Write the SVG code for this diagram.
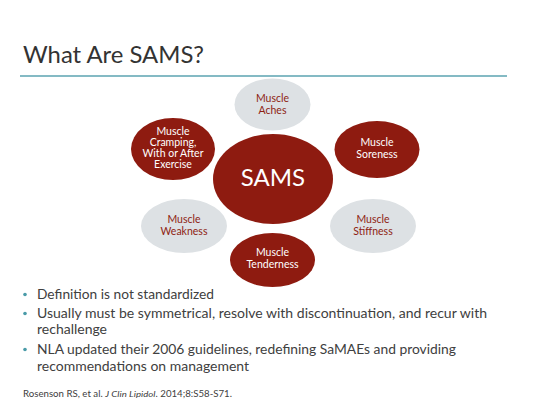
<svg xmlns="http://www.w3.org/2000/svg" width="540" height="405" viewBox="0 0 540 405">
<style>
text{font-family:Lato,"Open Sans","Liberation Sans",sans-serif}
.red{fill:#8E1B10}
.gray{fill:#DDE1E4}
.lw{fill:#FFFFFF;font-size:10.5px;text-anchor:middle}
.lr{fill:#8E1E12;font-size:10.5px;text-anchor:middle}
.b{fill:#404040;font-size:14px}
.dot{fill:#4A9BA8}
</style>
<rect width="540" height="405" fill="#FFFFFF"/>
<text x="23" y="63" font-size="24" fill="#333333" textLength="181" lengthAdjust="spacingAndGlyphs">What Are SAMS?</text>
<line x1="20" y1="76" x2="507" y2="76" stroke="#5BA3B0" stroke-width="1.5"/>
<g id="aches"><ellipse class="gray" cx="272.5" cy="104.5" rx="38" ry="26"/><text class="lr" x="272.5" y="102">Muscle</text><text class="lr" x="272.5" y="114">Aches</text></g>
<g id="cramping"><ellipse class="red" cx="173" cy="149" rx="42" ry="31"/><text class="lw" x="173" y="135">Muscle</text><text class="lw" x="173" y="146">Cramping,</text><text class="lw" x="173" y="157">With or After</text><text class="lw" x="173" y="168">Exercise</text></g>
<g id="soreness"><ellipse class="red" cx="377" cy="149.5" rx="42.5" ry="28.5"/><text class="lw" x="377" y="146" font-size="11">Muscle</text><text class="lw" x="377" y="158" font-size="11">Soreness</text></g>
<g id="sams"><ellipse class="red" cx="273" cy="179" rx="60" ry="45"/><text x="273" y="186" font-size="24" fill="#FFFFFF" text-anchor="middle">SAMS</text></g>
<g id="weakness"><ellipse class="gray" cx="184" cy="226" rx="43" ry="27"/><text class="lr" x="184" y="223">Muscle</text><text class="lr" x="184" y="235">Weakness</text></g>
<g id="stiffness"><ellipse class="gray" cx="373" cy="226" rx="43" ry="27"/><text class="lr" x="373" y="223" font-size="11">Muscle</text><text class="lr" x="373" y="235" font-size="11">Stiffness</text></g>
<g id="tenderness"><ellipse class="red" cx="272.5" cy="260" rx="42.5" ry="27"/><text class="lw" x="272.5" y="256" font-size="11">Muscle</text><text class="lw" x="272.5" y="268" font-size="11">Tenderness</text></g>
<g id="bullets">
<circle class="dot" cx="25" cy="294.5" r="1.8"/>
<text class="b" x="37" y="299" textLength="177" lengthAdjust="spacingAndGlyphs">Definition is not standardized</text>
<circle class="dot" cx="25" cy="313.5" r="1.8"/>
<text class="b" x="37" y="318" textLength="450" lengthAdjust="spacingAndGlyphs">Usually must be symmetrical, resolve with discontinuation, and recur with</text>
<text class="b" x="37" y="334" textLength="70" lengthAdjust="spacingAndGlyphs">rechallenge</text>
<circle class="dot" cx="25" cy="349.5" r="1.8"/>
<text class="b" x="37" y="354" textLength="419" lengthAdjust="spacingAndGlyphs">NLA updated their 2006 guidelines, redefining SaMAEs and providing</text>
<text class="b" x="37" y="371" textLength="212" lengthAdjust="spacingAndGlyphs">recommendations on management</text>
</g>
<text x="23" y="397" font-size="8.5" fill="#404040" textLength="209" lengthAdjust="spacingAndGlyphs">Rosenson RS, et al. <tspan font-style="italic">J Clin Lipidol</tspan>. 2014;8:S58-S71.</text>
</svg>
